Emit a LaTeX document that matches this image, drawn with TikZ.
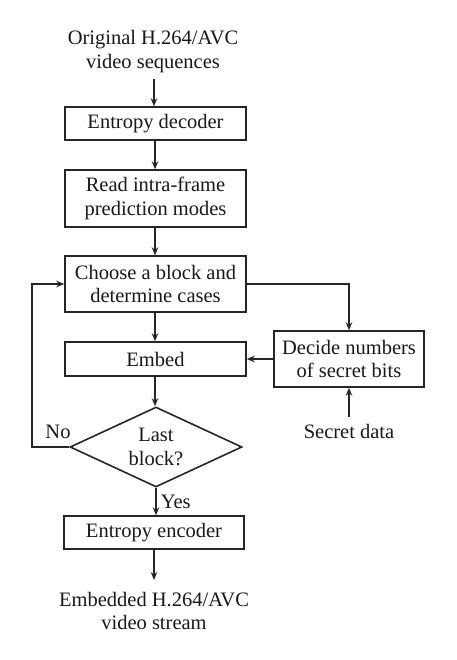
\documentclass[tikz,border=0pt]{standalone}
\usepackage{fontspec}
\setmainfont{Liberation Serif}
\usetikzlibrary{shapes.geometric,arrows.meta}
\begin{document}
\begin{tikzpicture}[x=1pt,y=1pt,
  every node/.style={font=\fontsize{20.5}{23.5}\selectfont, text=black!90},
  box/.style={draw=black!85, line width=1.4pt, rectangle, inner sep=0pt, align=center},
  txt/.style={align=center, inner sep=0pt},
  dec/.style={draw=black!85, line width=1.6pt, diamond, inner sep=0pt, align=center, minimum width=172pt, minimum height=80pt, aspect=2.15},
  arr/.style={line width=1.7pt, draw=black!85, -{Stealth[length=8pt,width=6.5pt]}}]
\useasboundingbox[fill=white] (0,0) rectangle (456,-660);
\node[txt] (src) at (153,-51.5) {Original H.264/AVC\\video sequences};
\node[box, minimum width=181pt, minimum height=33pt] (dec1) at (155.5,-123.5) {Entropy decoder};
\node[box, minimum width=181pt, minimum height=57pt] (read) at (155.5,-198.5) {Read intra-frame\\prediction modes};
\node[box, minimum width=181pt, minimum height=56pt] (choose) at (155.5,-284) {Choose a block and\\determine cases};
\node[box, minimum width=181pt, minimum height=34pt] (embed) at (155.5,-359) {Embed};
\node[box, minimum width=150pt, minimum height=56pt] (decide) at (349,-359) {Decide numbers\\of secret bits};
\node[txt] (secret) at (349,-431) {Secret data};
\node[dec] (last) at (156,-447) {Last\\block?};
\node[box, minimum width=180pt, minimum height=33pt] (enc) at (154,-532.5) {Entropy encoder};
\node[txt] (out) at (154,-611) {Embedded H.264/AVC\\video stream};
\coordinate (srcb) at (154,-79);
\coordinate (c1) at (155,-140);
\coordinate (c2) at (155,-227);
\coordinate (c3) at (155,-312);
\coordinate (c4) at (155,-376);
\coordinate (outt) at (154,-580);
\coordinate (secrett) at (349,-417);
\coordinate (loopL) at (32,-447);

\draw[arr] (srcb) -- (dec1.north -| srcb);
\draw[arr] (c1) -- (read.north -| c1);
\draw[arr] (c2) -- (choose.north -| c2);
\draw[arr] (c3) -- (embed.north -| c3);
\draw[arr] (choose.east) -| (decide.north);
\draw[arr] (decide.west) -- (embed.east);
\draw[arr] (secrett) -- (decide.south);
\draw[arr] (c4) -- (last.north -| c4);
\draw[arr] (last.west) -- (loopL) |- (choose.west);
\draw[arr] (last.south) -- (enc.north -| last.south) node[midway, right=4pt, txt] {Yes};
\draw[arr] (enc.south -| srcb) -- (outt -| srcb);
\node[txt] (no) at (58,-432) {No};
\end{tikzpicture}
\end{document}
